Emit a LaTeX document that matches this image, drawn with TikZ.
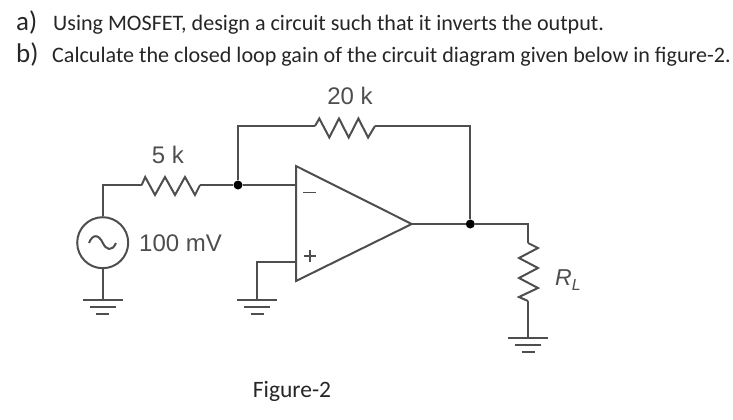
\documentclass[tikz,border=0pt]{standalone}
\usepackage{fontspec}
\setmainfont{Carlito}
\newfontfamily\circfont{Liberation Sans}
\definecolor{wire}{RGB}{78,78,78}
\tikzset{
  x=1pt,y=-1pt,
  wire/.style={draw=wire,line width=2pt,line join=miter},
  dot/.style={circle,fill=black,draw=none,minimum size=9pt,inner sep=0pt},
  lab/.style={font=\circfont\fontsize{24}{24}\selectfont,text=wire,inner sep=0pt,anchor=base},
  para/.style={font=\fontsize{22.1}{23}\selectfont,text=black!85,inner sep=0pt,anchor=base west},
  item/.style={font=\fontsize{27}{27}\selectfont,text=black!85,inner sep=0pt,anchor=base west},
  pics/gnd/.style={code={
    \draw[wire] (-20,0) -- (20,0);
    \draw[wire] (-13,7) -- (13,7);
    \draw[wire] (-6.5,14) -- (6.5,14);
  }}
}
\begin{document}
\begin{tikzpicture}
\useasboundingbox (0,0) rectangle (733,420);
% text
\node[item] (la) at (16,31) {a)};
\node[para] (ta) at (53,31) {Using MOSFET, design a circuit such that it inverts the output.};
\node[item] (lb) at (16,63) {b)};
\node[para] (tb) at (52,63) {Calculate the closed loop gain of the circuit diagram given below in figure-2.};
\node[font=\fontsize{23.5}{24}\selectfont,text=black!85,inner sep=0pt,anchor=base] (fig) at (292,397) {Figure-2};
% named points
\coordinate (g1) at (102.7,300);
\coordinate (g2) at (257,300);
\coordinate (g3) at (528,338);
\coordinate (c1) at (102.7,185);
\coordinate (r1a) at (141.7,185);
\coordinate (r1b) at (200,185);
\coordinate (c2) at (238,126);
\coordinate (r2a) at (315,126);
\coordinate (r2b) at (375,126);
\coordinate (c3) at (470.3,126);
\coordinate (c4) at (528,224);
\coordinate (r3a) at (528,243);
\coordinate (r3b) at (528,301);
\coordinate (c5) at (257,262);
\coordinate (ninv) at (296,185);
\coordinate (pinv) at (296,262);
\coordinate (tip) at (411.7,224);
% source
\node[circle,draw=wire,line width=2pt,minimum size=51pt,inner sep=0pt] (src) at (102.7,242.7) {};
\draw[wire] (89,243) .. controls (93,233) and (99,235) .. (102.7,242.7) .. controls (106,250) and (112,252) .. (116,243);
% junctions
\node[dot] (j1) at (238,185) {};
\node[dot] (j2) at (470.3,224) {};
% wires
\draw[wire] (src.north) -- (c1) -- (r1a);
\draw[wire] (r1a) -- ++(3.5,-8) -- ++(9.8,18) -- ++(10,-18) -- ++(10,18) -- ++(10,-18) -- ++(10,18) -- (r1b);
\draw[wire] (r1b) -- (j1) -- (ninv);
\draw[wire] (j1) -- (c2) -- (r2a);
\draw[wire] (r2a) -- ++(4.3,-7.5) -- ++(10,19) -- ++(9.7,-19) -- ++(9.7,19) -- ++(9.7,-19) -- ++(9.7,19) -- (r2b);
\draw[wire] (r2b) -- (c3) -- (j2);
\draw[wire] (tip) -- (j2) -- (c4) -- (r3a);
\draw[wire] (r3a) -- ++(10,5) -- ++(-19,10) -- ++(19,10) -- ++(-19,10) -- ++(19,10) -- ++(-19,9) -- (r3b);
\draw[wire] (r3b) -- (g3);
\draw[wire] (src.south) -- (g1);
\draw[wire] (pinv) -- (c5) -- (g2);
% op-amp
\draw[wire,line join=miter] (296,166) -- (tip) -- (296,281) -- cycle;
\draw[wire,line width=1.6pt] (303,192.5) -- (316,192.5);
\draw[wire,line width=1.6pt] (304,256) -- (316,256) (310,250) -- (310,262);
% grounds
\pic at (g1) {gnd};
\pic at (g2) {gnd};
\pic at (g3) {gnd};
% labels
\node[lab] (l5k) at (168,163) {5 k};
\node[lab] (l20k) at (350,104) {20 k};
\node[lab,anchor=base west] (l100) at (139,251.5) {100 mV};
\node[lab,anchor=base west,font=\circfont\itshape\fontsize{23}{23}\selectfont] (lrl) at (555,285) {R\raisebox{-5pt}{\fontsize{16}{16}\selectfont L}};
\end{tikzpicture}
\end{document}
